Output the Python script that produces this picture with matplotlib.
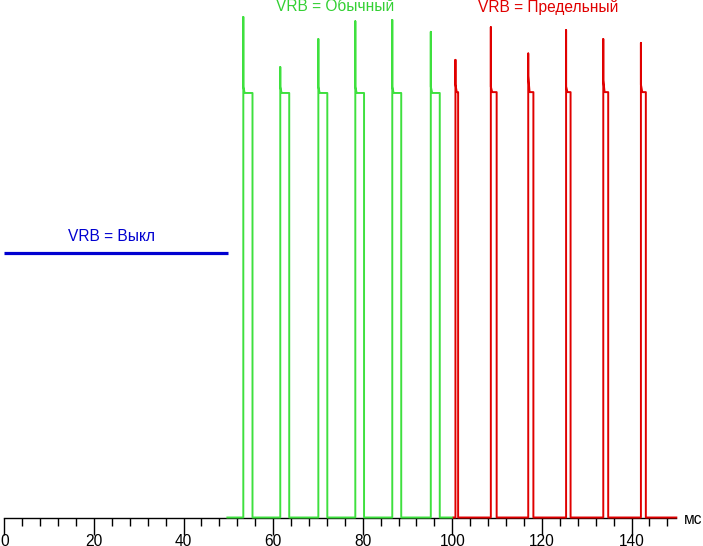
import matplotlib
matplotlib.use("Agg")
import matplotlib.pyplot as plt
from matplotlib.ticker import MultipleLocator

plt.rcParams['font.family'] = ['Liberation Sans', 'DejaVu Sans']

# ---- data (ms, arbitrary brightness units; plateau = 100) ----
blue_start, blue_end = 0.0, 50.0
blue_level = 62.3

green_start, green_end = 49.8, 100.0
green_rise = [53.35, 61.6, 70.1, 78.35, 86.6, 95.2]
green_fall = [55.4, 63.6, 72.1, 80.3, 88.6, 97.2]
green_spike = [117.9, 106.1, 112.7, 116.9, 117.2, 114.4]
green_plateau = [100.0, 100.0, 100.0, 100.0, 100.0, 100.0]
green_shoulder = [101.5, 101.5, 101.5, 101.5, 101.5, 101.5]

red_start, red_end = 100.3, 150.0
red_rise = [100.7, 108.6, 116.95, 125.4, 133.7, 142.1]
red_fall = [101.3, 109.9, 118.1, 126.4, 134.8, 143.2]
red_spike = [107.8, 115.5, 109.3, 114.8, 112.7, 111.8]
red_plateau = [100.2, 100.2, 100.2, 100.2, 100.2, 100.2]
red_shoulder = [102.0, 101.5, 104.0, 101.5, 103.0, 102.0]

major_ticks = [0, 20, 40, 60, 80, 100, 120, 140]
labels = ["VRB = Выкл", "VRB = Обычный", "VRB = Предельный"]

GREEN = '#3ee03e'
RED = '#e00000'
BLUE = '#0000d0'
FS = 11.2


def trace(start, end, rises, falls, spikes, shoulders, plateaus):
    xs, ys = [start], [0.0]
    for r, f, s, sh, p in zip(rises, falls, spikes, shoulders, plateaus):
        xs += [r, r, r, r + 0.3, f, f]
        ys += [0.0, s, sh, p, p, 0.0]
    xs.append(end)
    ys.append(0.0)
    return xs, ys


fig = plt.figure(figsize=(7.03, 5.46), dpi=100)
ax = fig.add_axes([4.3 / 703, 28.5 / 546, 672 / 703, 517.5 / 546])
ax.set_xlim(0, 150)
ax.set_ylim(0, 121.9)

ax.plot([blue_start, blue_end], [blue_level, blue_level], color=BLUE, lw=2.3,
        solid_capstyle='butt', clip_on=False, zorder=3)

gx, gy = trace(green_start, green_end, green_rise, green_fall, green_spike,
               green_shoulder, green_plateau)
ax.plot(gx, gy, color=GREEN, lw=1.4, clip_on=False, zorder=3)

rx, ry = trace(red_start, red_end, red_rise, red_fall, red_spike,
               red_shoulder, red_plateau)
ax.plot(rx, ry, color=RED, lw=1.4, clip_on=False, zorder=3)

for s in ['top', 'right', 'left']:
    ax.spines[s].set_visible(False)
ax.spines['bottom'].set_linewidth(1.0)
ax.spines['bottom'].set_color('black')
ax.set_yticks([])
ax.xaxis.set_major_locator(MultipleLocator(20))
ax.xaxis.set_minor_locator(MultipleLocator(4))
ax.set_xticks(major_ticks)
ax.set_xticklabels([str(t) for t in major_ticks])
ax.tick_params(axis='x', which='major', length=12, width=1, direction='out',
               pad=0, labelsize=FS)
ax.tick_params(axis='x', which='minor', length=6, width=1, direction='out')

ax.text(23.9, 66.3, labels[0], color=BLUE, fontsize=FS, ha='center', va='center')
ax.text(73.8, 120.3, labels[1], color='#33d033', fontsize=FS, ha='center', va='center')
ax.text(121.4, 120.3, labels[2], color=RED, fontsize=FS, ha='center', va='center')
fig.text(684 / 703, 1 - 519 / 546, "мс", fontsize=FS, ha='left', va='center')

fig.savefig("out.png", dpi=100)
